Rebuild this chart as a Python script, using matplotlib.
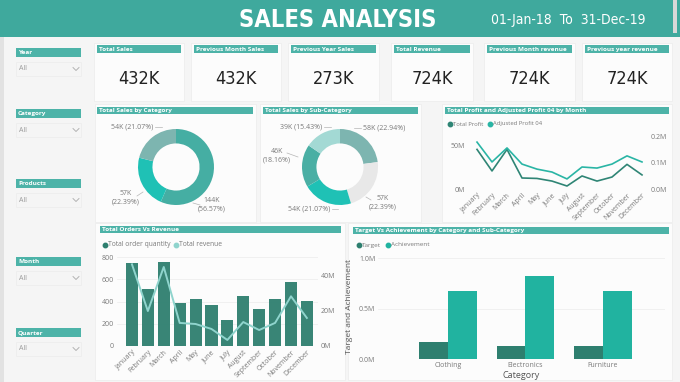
import matplotlib
matplotlib.use("Agg")
import matplotlib.pyplot as plt
from matplotlib.patches import Rectangle
from matplotlib.lines import Line2D

# ---- data ----
months = ["January", "February", "March", "April", "May", "June", "July",
          "August", "September", "October", "November", "December"]
order_qty = [746, 512, 755, 387, 422, 369, 234, 449, 333, 422, 575, 404]
revenue_m = [46.0, 19.7, 44.5, 13.0, 12.4, 9.6, 3.4, 13.5, 9.0, 13.0, 28.0, 15.8]
total_profit_m = [45.0, 20.5, 45.0, 12.5, 12.0, 9.0, 3.4, 14.8, 9.0, 13.6, 28.0, 16.0]
adj_profit_m = [0.177, 0.102, 0.155, 0.094, 0.075, 0.064, 0.038, 0.083, 0.079, 0.094, 0.125, 0.102]

cat_share = [56.57, 22.39, 21.07]
cat_labels = ["144K\n(56.57%)", "57K\n(22.39%)", "54K (21.07%)"]
sub_share = [22.94, 22.39, 21.07, 18.16, 15.43]
sub_labels = ["58K (22.94%)", "57K\n(22.39%)", "54K (21.07%)", "46K\n(18.16%)", "39K (15.43%)"]

categories = ["Clothing", "Electronics", "Furniture"]
target_m = [0.168, 0.129, 0.130]
achievement_m = [0.673, 0.820, 0.673]

kpi_titles = ["Total Sales", "Previous Month Sales", "Previous Year Sales",
              "Total Revenue", "Previous Month revenue", "Previous year revenue"]
kpi_values = ["432K", "432K", "273K", "724K", "724K", "724K"]
slicers = ["Year", "Category", "Products", "Month", "Quarter"]

# ---- colours ----
BG = "#f5f5f5"
PANEL = "#fcfcfc"
HEAD = "#3fa99d"
BAND = "#4db3a8"
DARK = "#2e7f6f"
TEAL = "#21b3a0"
LIGHT = "#8fd4cd"
GREY_TXT = "#7a7a7a"

W, H = 680, 382
fig = plt.figure(figsize=(6.8, 3.82), dpi=100)
fig.patch.set_facecolor(BG)
SMALL = ["Open Sans", "DejaVu Sans"]
COND = ["DejaVu Sans"]


def fbox(x0, y0, x1, y1):
    return [x0 / W, 1 - y1 / H, (x1 - x0) / W, (y1 - y0) / H]


def rect(x0, y0, x1, y1, color, **kw):
    fig.add_artist(Rectangle((x0 / W, 1 - y1 / H), (x1 - x0) / W, (y1 - y0) / H,
                             transform=fig.transFigure, facecolor=color, **kw))


def ftext(x, y, s, **kw):
    kw.setdefault("family", SMALL)
    fig.text(x / W, 1 - y / H, s, **kw)


def band(x0, y0, x1, y1, title):
    rect(x0, y0, x1, y1, BAND, edgecolor="none")
    ftext(x0 + 2, (y0 + y1) / 2 + 0.3, title, color="white", fontsize=4.6,
          fontweight="bold", va="center")


def dot_legend(items, y, size=4.6):
    for x, color, label in items:
        fig.add_artist(Line2D([x / W], [1 - y / H], marker="o", markersize=3.2,
                              color=color, transform=fig.transFigure))
        ftext(x + 3, y, label, fontsize=size, color=GREY_TXT, va="center")


# header
rect(0, 0, W, 37, HEAD, edgecolor="none")
rect(673, 0, 677, 33, "#d8d8d8", edgecolor="none")
ftext(338, 20, "SALES ANALYSIS", color="white", fontsize=17, fontweight="bold",
      ha="center", va="center", family=COND, fontstretch="condensed")
ftext(568, 20, "01-Jan-18  To  31-Dec-19", color="white", fontsize=10,
      ha="center", va="center", family=COND, fontstretch="condensed")
rect(0, 37, 4, H, "#e2e2e2", edgecolor="none")

# slicers
slicer_y = [48, 109, 179, 257, 328]
for name, y in zip(slicers, slicer_y):
    band(16, y, 81, y + 9, name)
    yy = y + 21
    rect(16, yy - 7, 81, yy + 7, "none", edgecolor="#ececec", linewidth=0.5)
    ftext(19, yy, "All", fontsize=5, color="#9a9a9a", va="center")
    fig.add_artist(Line2D([73 / W, 76 / W, 79 / W],
                          [1 - (yy - 1.5) / H, 1 - (yy + 1.5) / H, 1 - (yy - 1.5) / H],
                          color="#aaaaaa", linewidth=0.6, transform=fig.transFigure))

# KPI cards
kpi_x = [(97, 181), (194, 278), (291, 376), (394, 470), (487, 572), (585, 669)]
for (x0, x1), t, v in zip(kpi_x, kpi_titles, kpi_values):
    rect(x0 - 3, 43, x1 + 3, 101, PANEL, edgecolor="#ececec", linewidth=0.5, zorder=-5)
    band(x0, 45, x1, 53, t)
    ftext((x0 + x1) / 2, 79, v, fontsize=13, color="#222222", ha="center",
          va="center", family=COND, fontstretch="condensed")

# chart panels (drawn beneath the axes)
for box in [(95, 104, 256, 222), (260, 104, 421, 222), (442, 104, 672, 222),
            (95, 223, 345, 380), (348, 223, 672, 380)]:
    rect(*box, PANEL, edgecolor="#ececec", linewidth=0.5, zorder=-5)


# ---- donuts ----
def donut(cx, cy, x0, y0, x1, y1, shares, colors, labels, label_pos, leaders):
    r = 38.0
    ax = fig.add_axes(fbox(x0, y0, x1, y1))
    ax.set_facecolor("none")
    ax.pie(shares, colors=colors, startangle=90, counterclock=False,
           wedgeprops=dict(width=0.38, linewidth=0), radius=1)
    ax.set_aspect("auto")
    ax.set_xlim((x0 - cx) / r, (x1 - cx) / r)
    ax.set_ylim((cy - y1) / r, (cy - y0) / r)
    ax.axis("off")
    for lab, (px, py, ha), seg in zip(labels, label_pos, leaders):
        ax.text((px - cx) / r, (cy - py) / r, lab, fontsize=5, color=GREY_TXT,
                ha=ha, va="center", family=SMALL, linespacing=1.3, clip_on=False)
        xs = [(p[0] - cx) / r for p in seg]
        ys = [(cy - p[1]) / r for p in seg]
        ax.plot(xs, ys, color="#b5b5b5", linewidth=0.5, clip_on=False)


band(97, 107, 253, 114, "Total Sales by Category")
donut(176, 167, 97, 116, 255, 221, cat_share, ["#45aea3", "#1fc1b5", "#7db5b0"],
      cat_labels,
      [(212, 205, "center"), (126, 198, "center"), (153, 127, "right")],
      [[(193, 203), (200, 205)], [(137, 196), (143, 192)], [(155, 127), (162, 127)]])

band(263, 107, 418, 114, "Total Sales by Sub-Category")
donut(340, 167, 262, 116, 420, 221, sub_share,
      ["#7db5b0", "#e8e8e8", "#1fc1b5", "#4aafa4", "#a3d9d4"], sub_labels,
      [(363, 128, "left"), (383, 202.5, "center"), (330, 209, "right"),
       (277, 155.5, "center"), (322, 127, "right")],
      [[(354, 128), (361, 128)], [(366, 197), (371, 200)], [(332, 209), (338, 209)],
       [(287, 153), (298, 157)], [(324, 127), (331, 127)]])


def style(ax):
    ax.set_facecolor("none")
    for s in ax.spines.values():
        s.set_visible(False)
    ax.tick_params(length=0, labelsize=5, colors=GREY_TXT, pad=2)
    for lab in ax.get_xticklabels() + ax.get_yticklabels():
        lab.set_family(SMALL)


x = list(range(len(months)))

# ---- profit line chart ----
band(445, 107, 669, 114, "Total Profit and Adjusted Profit 04 by Month")
dot_legend([(450, "#2f8575", "Total Profit"), (490, "#2ab5a5", "Adjusted Profit 04")],
           124, size=4.2)
ax = fig.add_axes(fbox(468, 130, 648, 189))
ax2 = ax.twinx()
ax.plot(x, total_profit_m, color="#2f8575", linewidth=1.2)
ax2.plot(x, adj_profit_m, color="#2ab5a5", linewidth=1.2)
ax.set_xlim(-0.6, 11.4)
ax.set_ylim(0, 50 * 59 / 44)
ax2.set_ylim(0, 0.2 * 59 / 53)
ax.set_yticks([0, 50], ["0M", "50M"])
ax2.set_yticks([0, 0.1, 0.2], ["0.0M", "0.1M", "0.2M"])
ax.set_xticks(x, months, rotation=45, ha="right", rotation_mode="anchor")
style(ax)
style(ax2)

# ---- orders vs revenue ----
band(100, 226, 341, 233, "Total Orders Vs Revenue")
dot_legend([(105, DARK, "Total order quantity"), (176, LIGHT, "Total revenue")], 245,
           size=4.9)
ax = fig.add_axes(fbox(117, 252, 318, 346))
ax2 = ax.twinx()
ax.bar(x, order_qty, width=0.76, color=DARK, alpha=0.95)
ax2.plot(x, revenue_m, color=LIGHT, linewidth=1.4)
ax.set_xlim(-0.94, 11.7)
ax.set_ylim(0, 800 * 94 / 89)
ax2.set_ylim(0, 20 * 94 / 35.5)
ax.set_yticks([0, 200, 400, 600, 800])
ax2.set_yticks([0, 20, 40], ["0M", "20M", "40M"])
ax.set_xticks(x, months, rotation=45, ha="right", rotation_mode="anchor")
ax.grid(axis="y", color="#ececec", linewidth=0.5)
ax.set_axisbelow(True)
style(ax)
style(ax2)

# ---- target vs achievement ----
band(353, 227, 669, 234, "Target Vs Achievement by Category and Sub-Category")
dot_legend([(359, DARK, "Target"), (388, TEAL, "Achievement")], 245)
ax = fig.add_axes(fbox(378, 253, 665, 359))
cx = list(range(len(categories)))
bw = 0.374
ax.bar([c - bw / 2 for c in cx], target_m, width=bw, color=DARK)
ax.bar([c + bw / 2 for c in cx], achievement_m, width=bw, color=TEAL)
ax.set_xlim(-0.903, 2.8)
ax.set_ylim(0, 1.05)
ax.set_yticks([0, 0.5, 1.0], ["0.0M", "0.5M", "1.0M"])
ax.set_xticks(cx, categories)
ax.grid(axis="y", color="#ececec", linewidth=0.5)
ax.set_axisbelow(True)
style(ax)
ax.tick_params(axis="x", pad=2.5)
ax.set_xlabel("Category", fontsize=6.5, color="#555555", family=SMALL, labelpad=1)
ax.set_ylabel("Target and Achievement", fontsize=6, color="#555555", family=SMALL,
              labelpad=4)

fig.savefig("out.png", dpi=100, facecolor=fig.get_facecolor())
